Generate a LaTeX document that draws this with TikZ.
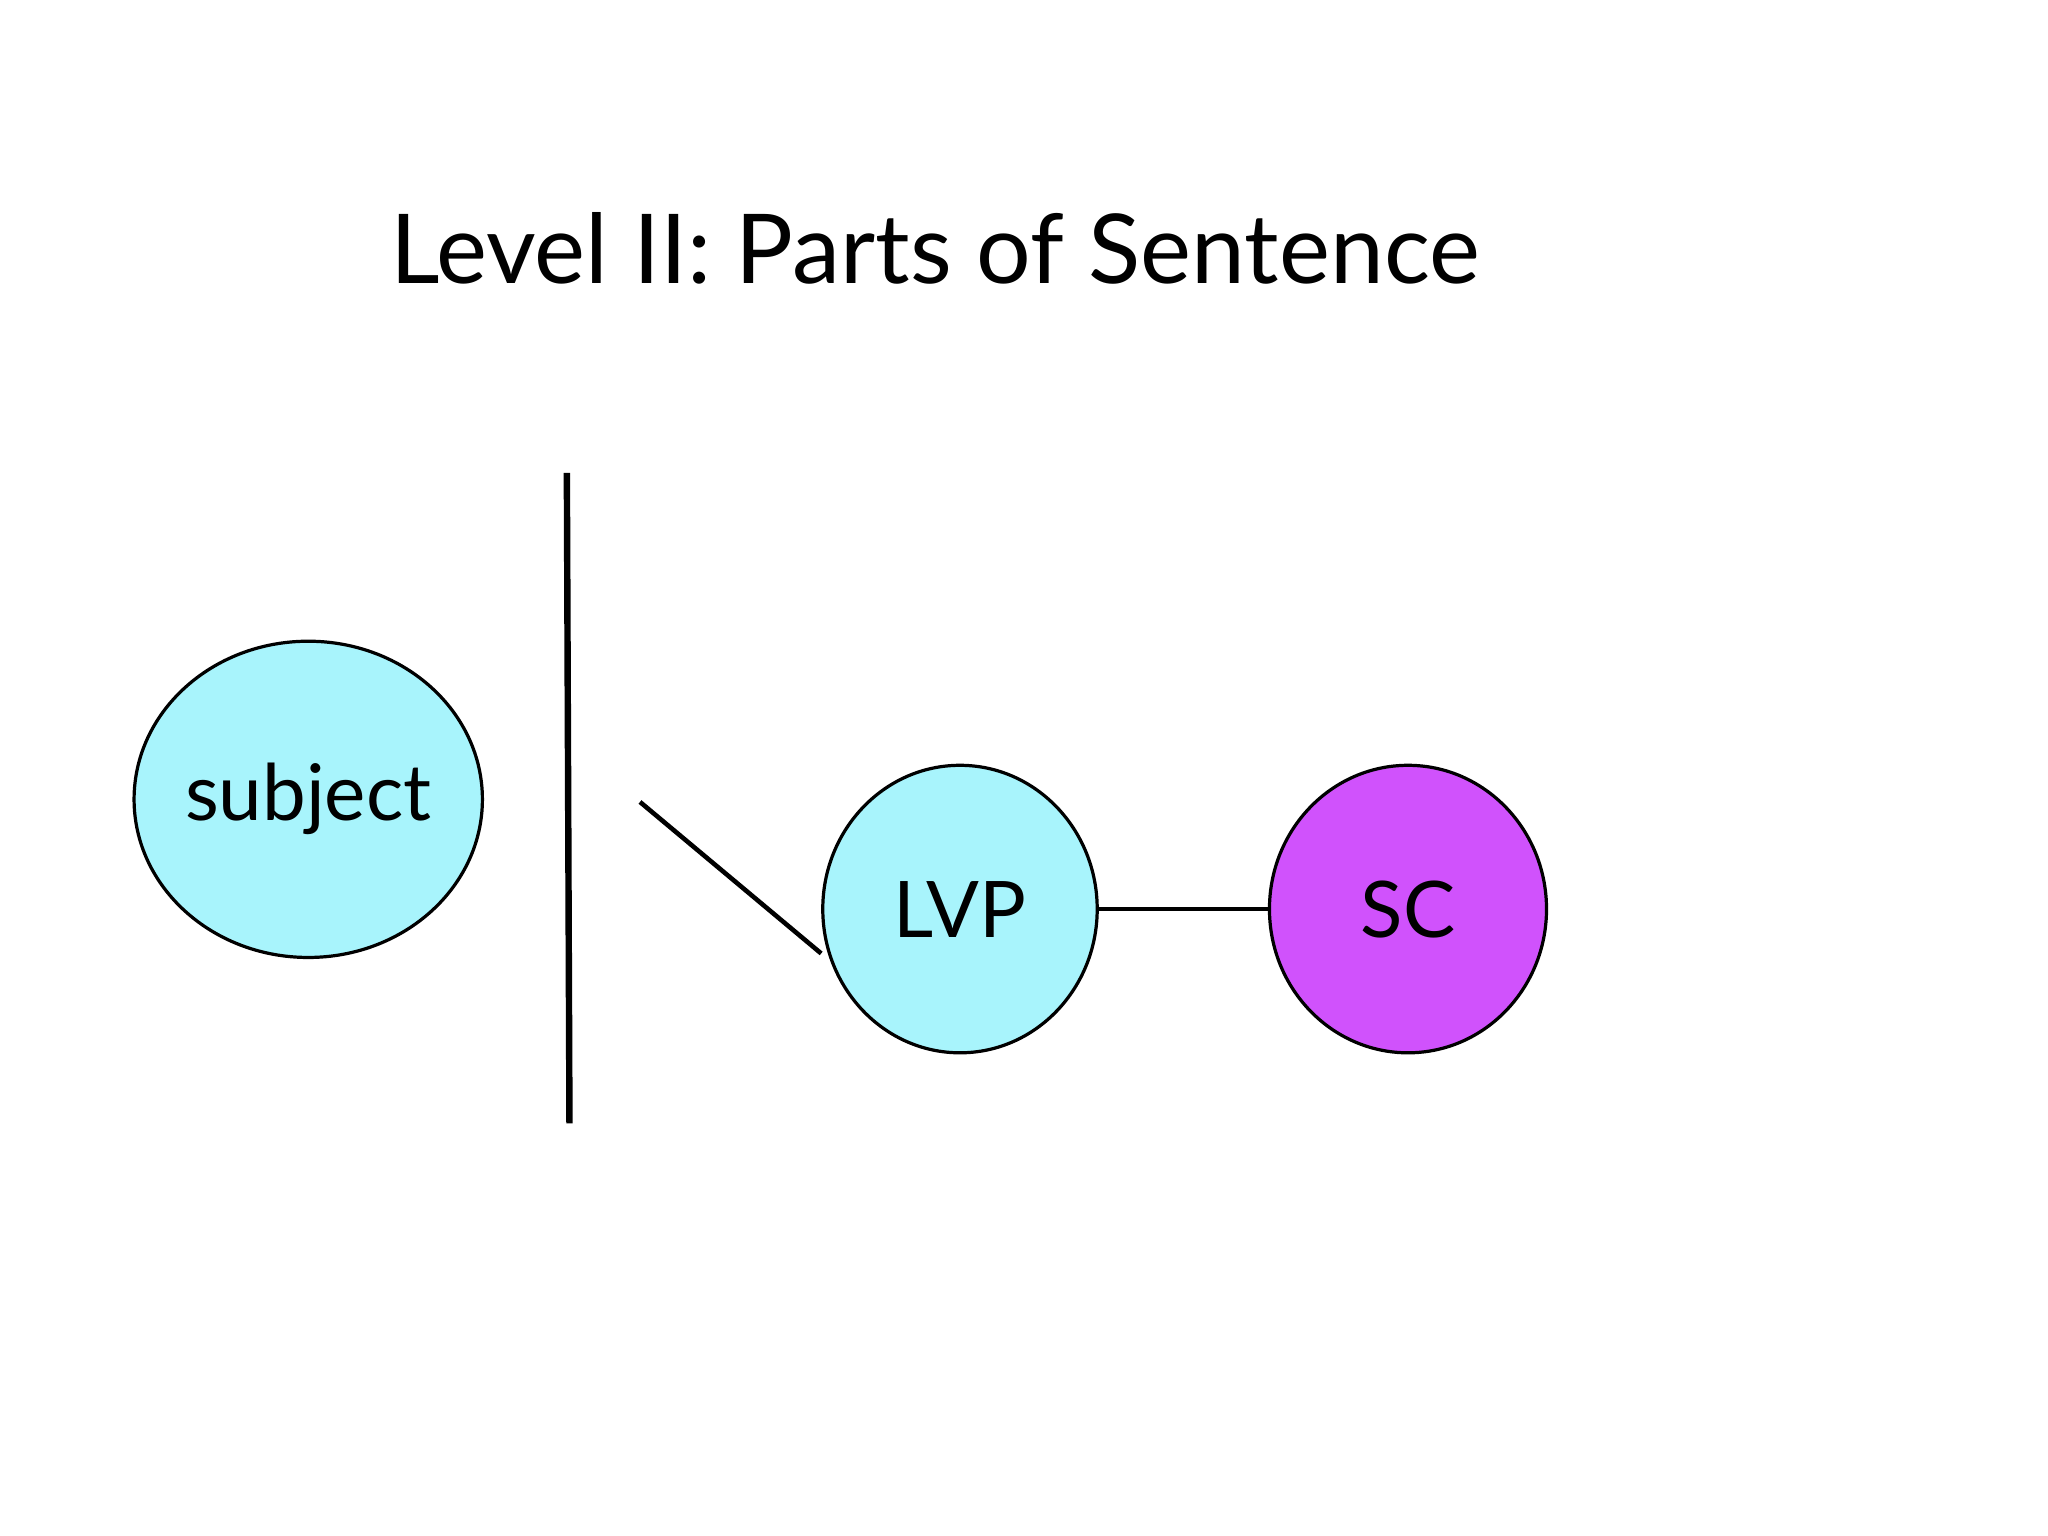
\documentclass[tikz,border=0pt]{standalone}
\usepackage{fontspec}
\setmainfont{Lato}
\usetikzlibrary{shapes.geometric}
\definecolor{cy}{HTML}{A8F4FC}
\definecolor{mg}{HTML}{D052FC}
\tikzset{bub/.style={ellipse,draw=black,line width=0.7pt,inner sep=0pt}}
\begin{document}
\begin{tikzpicture}[x=0.01cm,y=-0.01cm]
\useasboundingbox (0,0) rectangle (1568,1176);
\node (title) at (716,190) {\fontsize{21}{25}\selectfont Level II: Parts of Sentence};
\draw[line width=1.4pt] (434,362) -- (436,860);
\node[bub,fill=cy,minimum width=244\pgfmapsto,minimum width=6.94cm*0.1*10/10,minimum width=2.44cm,minimum height=2.42cm] (subj) at (236,612) {\fontsize{17}{20}\selectfont subject};
\node[bub,fill=cy,minimum width=2.10cm,minimum height=2.20cm] (lvp) at (735,696) {\fontsize{17}{20}\selectfont LVP};
\node[bub,fill=mg,minimum width=2.12cm,minimum height=2.20cm] (sc) at (1078,696) {\fontsize{17}{20}\selectfont SC};
\coordinate (free) at (490,614);
\draw[line width=1pt] (free) -- (lvp.west |- 0,730);
\draw[line width=0.8pt] (lvp.east) -- (sc.west);
\end{tikzpicture}
\end{document}
